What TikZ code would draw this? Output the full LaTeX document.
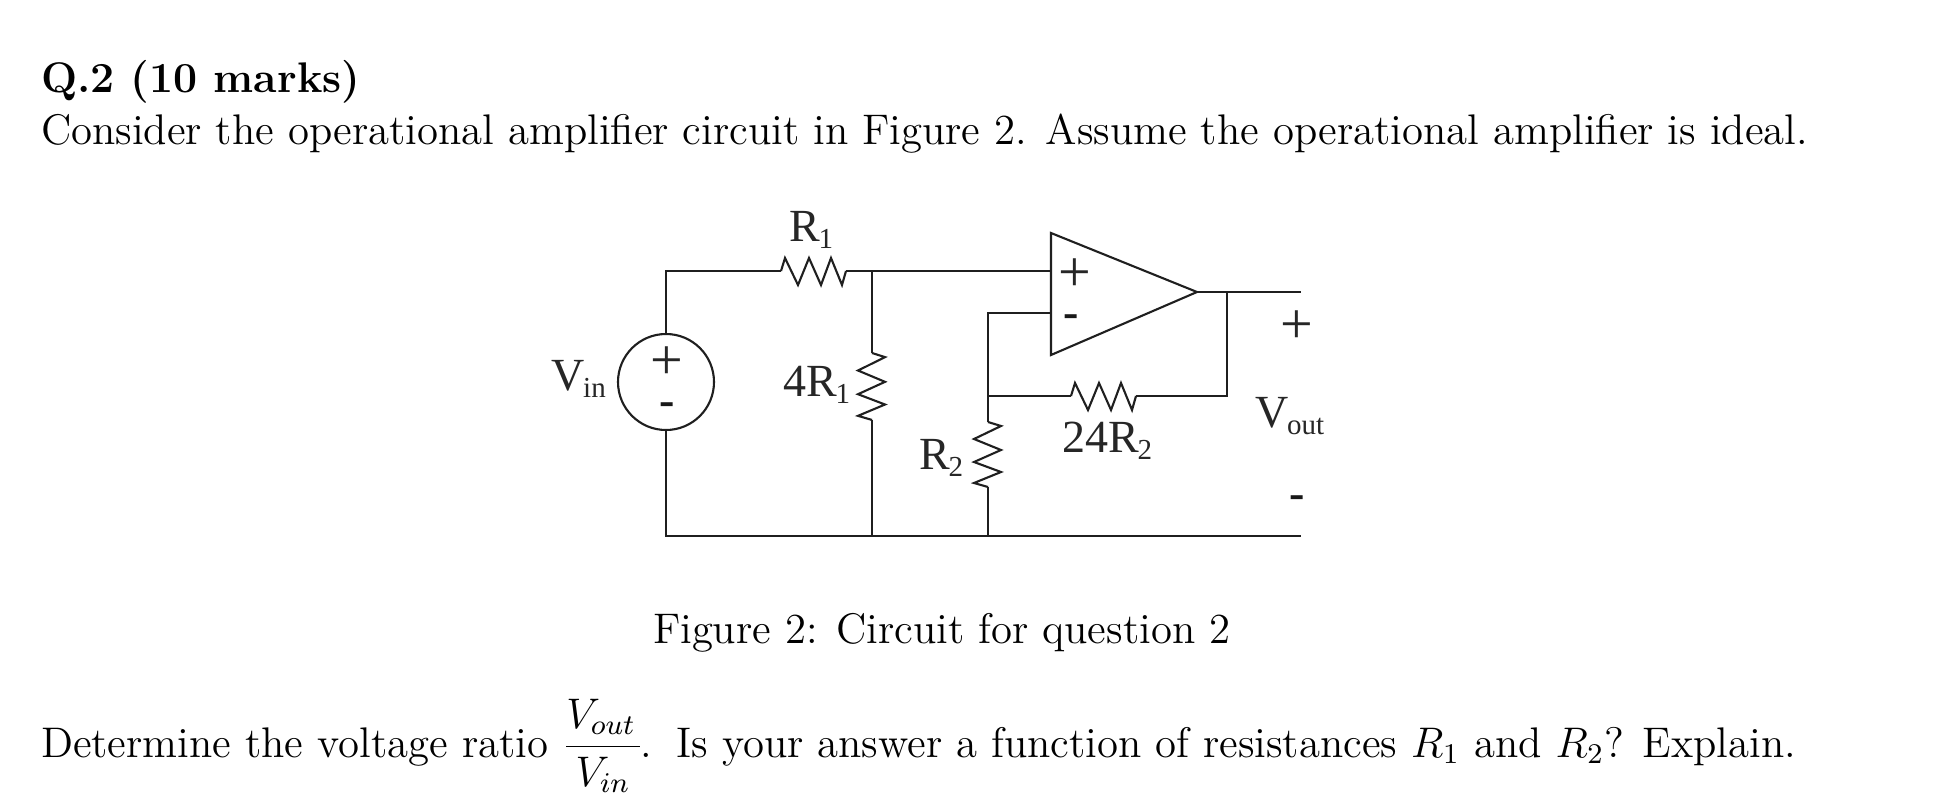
\documentclass[tikz,border=0pt]{standalone}
\usepackage{fontspec}
\newfontfamily\circfont{Liberation Serif}
\newcommand{\sbs}[1]{\kern-1pt\raisebox{-7pt}{\fontsize{29}{30}\selectfont #1}}
\tikzset{
  x=1pt,y=-1pt,
  wire/.style={line width=2.1pt,draw=black!88,line join=miter},
  clabel/.style={inner sep=0pt,outer sep=0pt,anchor=base west,text=black!85,font=\circfont\fontsize{46}{48}\selectfont},
  csign/.style={inner sep=0pt,outer sep=0pt,text=black!85,font=\circfont\fontsize{58}{60}\selectfont},
  cminus/.style={inner sep=0pt,outer sep=0pt,text=black!90,font=\circfont\bfseries\fontsize{46}{48}\selectfont},
  doctext/.style={inner sep=0pt,outer sep=0pt,anchor=base west,text=black,scale=3.568,transform shape,font=\fontsize{12}{14.4}\selectfont},
  hres/.pic={\draw[wire] (0,0) -- (4,-13) -- (17,14) -- (28,-13) -- (40,14) -- (50,-13) -- (61,14) -- (65,0);}
}
\begin{document}
\begin{tikzpicture}
\useasboundingbox (0,0) rectangle (1948,795);
\fill[white] (0,0) rectangle (1948,795);
% text
\node[doctext] (title) at (41,92) {\bfseries Q.2 (10 marks)};
\node[doctext] (intro) at (41,144) {Consider the operational amplifier circuit in Figure 2. Assume the operational amplifier is ideal.};
\node[doctext] (caption) at (653,643) {Figure 2: Circuit for question 2};
\node[doctext] (question) at (41,757) {Determine the voltage ratio $\displaystyle\frac{V_{out}\kern1.1pt}{V_{in}}$\kern-1pt.\kern1.6pt{} Is your answer a function of resistances $R_1$ and $R_2$? Explain.};
% coordinates
\coordinate (tl) at (666,271);
\coordinate (bl) at (666,536);
\coordinate (r1a) at (781,271);
\coordinate (r1b) at (846,271);
\coordinate (j1) at (872,271);
\coordinate (r4a) at (872,353);
\coordinate (r4b) at (872,420);
\coordinate (j1b) at (872,536);
\coordinate (ip) at (1051,271);
\coordinate (im) at (1051,313);
\coordinate (imc) at (988,313);
\coordinate (fbl) at (988,396);
\coordinate (rfa) at (1071,396);
\coordinate (rfb) at (1136,396);
\coordinate (fbr) at (1227,396);
\coordinate (r2a) at (988,422);
\coordinate (r2b) at (988,487);
\coordinate (j2b) at (988,536);
\coordinate (oa1) at (1051,233);
\coordinate (oa2) at (1051,355);
\coordinate (oa3) at (1197,292);
\coordinate (out) at (1227,292);
\coordinate (oute) at (1301,292);
\coordinate (bre) at (1301,536);
% source
\node[circle,draw=black!88,line width=2.1pt,minimum size=96pt,inner sep=0pt] (vs) at (666,382) {};
\draw[wire] (vs.north) -- (tl) -- (r1a);
\draw[wire] (vs.south) -- (bl) -- (bre);
% resistors
\pic at (r1a) {hres};
\pic[rotate=-90,xscale=1.03] at (r4a) {hres};
\pic[rotate=-90] at (r2a) {hres};
\pic at (rfa) {hres};
% wires
\draw[wire] (r1b) -- (ip);
\draw[wire] (j1) -- (r4a);
\draw[wire] (r4b) -- (j1b);
\draw[wire] (im) -- (imc) -- (fbl) -- (r2a);
\draw[wire] (r2b) -- (j2b);
\draw[wire] (fbl) -- (rfa);
\draw[wire] (rfb) -- (fbr) -- (out);
\draw[wire] (oa3) -- (oute);
\draw[wire] (oa1) -- (oa3) -- (oa2) -- cycle;
% labels
\node[clabel] (lr1) at (789,241) {R\sbs{1}};
\node[clabel] (lvin) at (551,390) {V\sbs{in}};
\node[clabel] (l4r) at (783,396) {4R\sbs{1}};
\node[clabel] (lr2) at (919,469) {R\sbs{2}};
\node[clabel] (l24) at (1062,452) {24R\sbs{2}};
\node[clabel] (lvout) at (1255,427) {V\sbs{out}};
\node[csign] (sp1) at (1075,275) {+};
\node[cminus] (sm1) at (1071,321) {-};
\node[csign] (sp2) at (667,363) {+};
\node[cminus] (sm2) at (667,409) {-};
\node[csign] (sp3) at (1297,327) {+};
\node[cminus] (sm3) at (1297,502) {-};
\end{tikzpicture}
\end{document}
